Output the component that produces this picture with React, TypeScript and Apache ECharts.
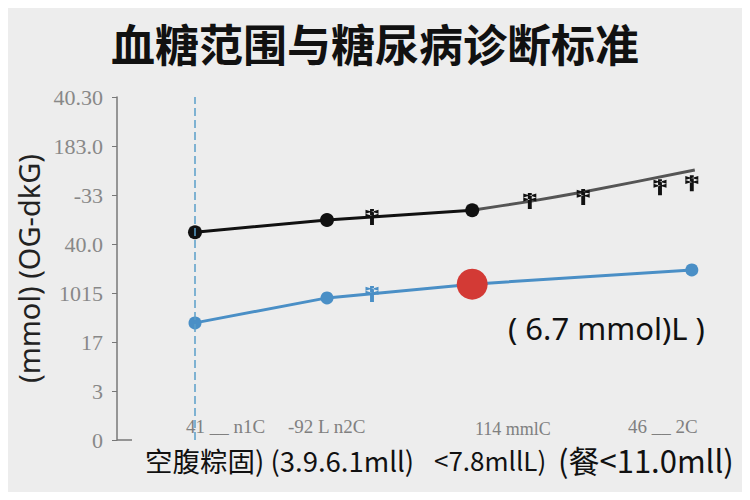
import React, { useEffect, useRef } from "react";
import * as echarts from "echarts";

const yTickLabels = ["0", "3", "17", "1015", "40.0", "-33", "183.0", "40.30"];
const blackLineX = [13, 35, 59.2];
const blackLineY = [4.24, 4.49, 4.69];
const grayLineX = [59.2, 68.8, 77.7, 96.3];
const grayLineY = [4.69, 4.87, 5.06, 5.51];
const blackStarX = [42.5, 68.8, 77.7, 90.5, 95.8];
const blackStarY = [4.55, 4.88, 4.96, 5.16, 5.24];
const blueLineX = [13, 35, 59.2, 95.8];
const blueLineY = [2.39, 2.9, 3.18, 3.47];
const blueStarX = [42.5];
const blueStarY = [2.98];
const highlightX = [59.2];
const highlightY = [3.18];
const fastingLineX = 13;
const smallXLabels = ["41 __ n1C", "-92 L n2C", "114 mmlC", "46 __ 2C"];
const bigXLabels = ["空腹粽固) (3.9.6.1mll)", "<7.8mllL)", "(餐<11.0mll)"];
const annotation = "( 6.7 mmol)L )";
const title = "血糖范围与糖尿病诊断标准";
const yName = "(mmol) (OG-dkG)";

const zip = (xs: number[], ys: number[]) => xs.map((x, i) => [x, ys[i]]);

const STAR =
  "path://M3.5,0 L6.5,0 L6.5,12 L3.5,12 Z M0,0.5 L10,3.5 L10,6.5 L0,3.5 Z M10,0.5 L0,3.5 L0,6.5 L10,3.5 Z";

export default function App() {
  const ref = useRef<HTMLDivElement>(null);
  useEffect(() => {
    if (!ref.current) return;
    const chart = echarts.init(ref.current, undefined, { renderer: "svg" });
    chart.setOption({
      animation: false,
      backgroundColor: "#ededed",
      title: {
        text: title,
        left: "center",
        top: 16,
        textStyle: {
          fontFamily: "Noto Sans CJK SC",
          fontWeight: "bold",
          fontSize: 44,
          color: "#111",
        },
      },
      grid: { left: 117, right: 33, top: 97, bottom: 60 },
      xAxis: {
        type: "value",
        min: 0,
        max: 100,
        axisLine: { show: false },
        axisTick: { show: false },
        axisLabel: { show: false },
        splitLine: { show: false },
      },
      yAxis: {
        type: "value",
        min: 0,
        max: 7,
        interval: 1,
        name: yName,
        nameLocation: "middle",
        nameRotate: 90,
        nameGap: 70,
        nameTextStyle: { fontFamily: "Noto Sans", fontSize: 29, color: "#222" },
        axisLine: { show: true, lineStyle: { color: "#777", width: 1.5 } },
        axisTick: { show: true, length: 5, lineStyle: { color: "#777" } },
        axisLabel: {
          formatter: (v: number) => yTickLabels[Math.round(v)] ?? "",
          fontFamily: "Liberation Serif",
          fontSize: 22,
          color: "#888",
          margin: 14,
        },
        splitLine: { show: false },
      },
      series: [
        {
          type: "line",
          data: zip(blackLineX, blackLineY),
          symbol: "circle",
          symbolSize: 14,
          itemStyle: { color: "#111", borderWidth: 0 },
          lineStyle: { color: "#111", width: 3 },
          z: 3,
          markLine: {
            silent: true,
            symbol: "none",
            label: { show: false },
            lineStyle: { color: "#5a9ec9", type: [8, 4], width: 1.5 },
            data: [{ xAxis: fastingLineX }],
          },
        },
        {
          type: "line",
          data: zip(grayLineX, grayLineY),
          symbol: "none",
          smooth: 0.2,
          lineStyle: { color: "#555", width: 3 },
          z: 2,
        },
        {
          type: "scatter",
          data: zip(blackStarX, blackStarY),
          symbol: STAR,
          symbolSize: [13, 16],
          itemStyle: { color: "#111", opacity: 1 },
          z: 4,
        },
        {
          type: "line",
          data: zip(blueLineX, blueLineY),
          symbol: "circle",
          symbolSize: 13,
          itemStyle: { color: "#4a8fc6", borderWidth: 0 },
          lineStyle: { color: "#4a8fc6", width: 3 },
          z: 3,
        },
        {
          type: "scatter",
          data: zip(blueStarX, blueStarY),
          symbol: STAR,
          symbolSize: [13, 16],
          itemStyle: { color: "#4a8fc6", opacity: 1 },
          z: 4,
        },
        {
          type: "scatter",
          data: zip(highlightX, highlightY),
          symbol: "circle",
          symbolSize: 31,
          itemStyle: { color: "#d33a35", opacity: 1 },
          z: 5,
        },
      ],
      graphic: [
        {
          type: "text",
          left: 508,
          top: 312,
          style: { text: annotation, font: "31px 'Noto Sans'", fill: "#111" },
        },
        {
          type: "line",
          shape: { x1: 117, y1: 440, x2: 132, y2: 440 },
          style: { stroke: "#777", lineWidth: 1.5 },
        },
        {
          type: "text",
          left: 186,
          top: 417,
          style: { text: smallXLabels[0], font: "19px 'Liberation Serif'", fill: "#808080" },
        },
        {
          type: "text",
          left: 288,
          top: 417,
          style: { text: smallXLabels[1], font: "19px 'Liberation Serif'", fill: "#808080" },
        },
        {
          type: "text",
          left: 475,
          top: 420,
          style: { text: smallXLabels[2], font: "18px 'Liberation Serif'", fill: "#808080" },
        },
        {
          type: "text",
          left: 628,
          top: 417,
          style: { text: smallXLabels[3], font: "19px 'Liberation Serif'", fill: "#808080" },
        },
        {
          type: "text",
          left: 145,
          top: 446,
          style: { text: bigXLabels[0], font: "27.5px 'Noto Sans CJK SC'", fill: "#111" },
        },
        {
          type: "text",
          left: 434,
          top: 446,
          style: { text: bigXLabels[1], font: "26px 'Noto Sans CJK SC'", fill: "#111" },
        },
        {
          type: "text",
          left: 558,
          top: 444,
          style: { text: bigXLabels[2], font: "31px 'Noto Sans CJK SC'", fill: "#111" },
        },
      ],
    });
    return () => chart.dispose();
  }, []);
  return <div ref={ref} style={{ width: 750, height: 500, margin: -8 }} />;
}
